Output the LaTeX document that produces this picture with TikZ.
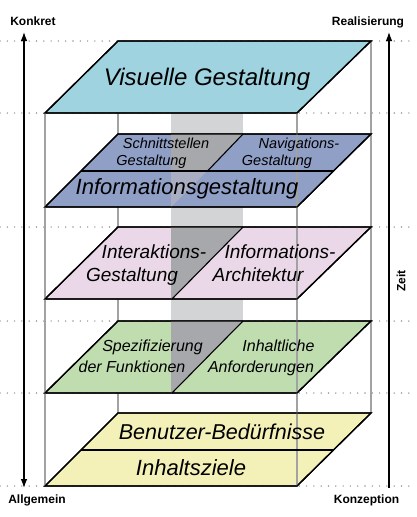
\documentclass[tikz,border=0pt]{standalone}
\usepackage{fontspec}
\setmainfont{Liberation Sans}
\newfontfamily\layfont{Liberation Sans}[ItalicFont=* Italic]
\usetikzlibrary{arrows.meta}
\definecolor{cviz}{HTML}{9FD3DF}
\definecolor{cinf}{HTML}{8F9FC6}
\definecolor{cpink}{HTML}{EAD7E7}
\definecolor{cgreen}{HTML}{C0DDB0}
\definecolor{cyell}{HTML}{F3F0B8}
\definecolor{shaftlight}{HTML}{D3D4D6}
\definecolor{shaftdark}{HTML}{A7A8AB}
\definecolor{shaftmid}{HTML}{A9AEC2}
\definecolor{edgegrey}{HTML}{A2A2A2}
\definecolor{dotgrey}{HTML}{9A9A9A}
\begin{document}
\begin{tikzpicture}[x=1pt,y=-1pt,
  layer/.style={draw=black,line width=1.3pt,line join=miter},
  divline/.style={draw=black,line width=1.1pt},
  vedge/.style={draw=edgegrey,line width=1.2pt},
  dotline/.style={draw=dotgrey,line width=1.6pt,line cap=round,dash pattern=on 0pt off 7.3pt},
  axis/.style={draw=black,line width=1.1pt},
  tip/.style={Latex[length=9pt,width=6.5pt]},
  lab/.style={font=\bfseries\fontsize{12}{14}\selectfont,inner sep=0pt,anchor=base},
  lay/.style={font=\layfont\itshape\fontsize{#1}{#1}\selectfont,inner sep=0pt,anchor=base},
]
\useasboundingbox (0,0) rectangle (416,517);

% dotted level lines
\foreach \yy/\nm in {41/a,113/b,227/c,321/d,393/e,486/f}{
  \coordinate (dl\nm) at (0,\yy);
  \coordinate (dr\nm) at (416,\yy);
  \draw[dotline] (dl\nm) -- (dr\nm);
}

% back vertical edges
\coordinate (bl1) at (118,113); \coordinate (bl2) at (118,413);
\coordinate (br1) at (371,41);  \coordinate (br2) at (371,413);
\draw[vedge] (bl1) -- (bl2);
\draw[vedge] (br1) -- (br2);

% light shaft
\fill[shaftlight] (171,113) rectangle (243,321);

% layers
\path[layer,fill=cviz]   (45,113) -- (297,113) -- (371,41)  -- (118,41)  -- cycle;
\path[layer,fill=cinf]   (45,207) -- (297,207) -- (371,134) -- (118,134) -- cycle;
\path[layer,fill=cpink]  (45,299) -- (297,299) -- (371,227) -- (118,227) -- cycle;
\path[layer,fill=cgreen] (45,393) -- (297,393) -- (371,321) -- (118,321) -- cycle;
\path[layer,fill=cyell]  (45,486) -- (297,486) -- (371,413) -- (118,413) -- cycle;

% shaft seen inside layers
\fill[shaftdark] (171,134) -- (243,134) -- (207,171) -- (171,171) -- cycle;
\fill[shaftmid]  (171,171) -- (207,171) -- (171,207) -- cycle;
\fill[shaftdark] (171,227) -- (243,227) -- (171.5,299) -- (171,299) -- cycle;
\fill[shaftdark] (171,321) -- (243,321) -- (171.5,393) -- (171,393) -- cycle;

% front vertical edges
\coordinate (fl1) at (45,113); \coordinate (fl2) at (45,486);
\coordinate (fr1) at (297,113); \coordinate (fr2) at (297,486);
\draw[vedge] (fl1) -- (fl2);
\draw[vedge] (fr1) -- (fr2);

% re-stroke layer outlines
\path[layer] (45,113) -- (297,113) -- (371,41)  -- (118,41)  -- cycle;
\path[layer] (45,207) -- (297,207) -- (371,134) -- (118,134) -- cycle;
\path[layer] (45,299) -- (297,299) -- (371,227) -- (118,227) -- cycle;
\path[layer] (45,393) -- (297,393) -- (371,321) -- (118,321) -- cycle;
\path[layer] (45,486) -- (297,486) -- (371,413) -- (118,413) -- cycle;

% dividers
\draw[divline] (81,171) -- (334,171);
\draw[divline] (243,134) -- (207.5,171);
\draw[divline] (243,227) -- (172,299);
\draw[divline] (243,321) -- (172,393);
\draw[divline] (81,450) -- (334,450);

% layer texts
\node[lay=24] (t1) at (207,85) {Visuelle Gestaltung};
\node[lay=14.5] (t2a) at (166,148) {Schnittstellen};
\node[lay=14.5] (t2b) at (151.5,165) {Gestaltung};
\node[lay=14.5] (t2c) at (299,148) {Navigations-};
\node[lay=14.5] (t2d) at (277,165) {Gestaltung};
\node[lay=22] (t2e) at (187,194) {Informationsgestaltung};
\node[lay=19] (t3a) at (154,258) {Interaktions-};
\node[lay=19] (t3b) at (132,281) {Gestaltung};
\node[lay=19] (t3c) at (280,258) {Informations-};
\node[lay=19] (t3d) at (258,281) {Architektur};
\node[lay=16] (t4a) at (152.5,351) {Spezifizierung};
\node[lay=16] (t4b) at (132,372) {der Funktionen};
\node[lay=16] (t4c) at (278.5,351) {Inhaltliche};
\node[lay=16] (t4d) at (261,372) {Anforderungen};
\node[lay=21.5] (t5a) at (222,439) {Benutzer-Bedürfnisse};
\node[lay=22] (t5b) at (191,475) {Inhaltsziele};

% axes
\coordinate (lt) at (24,32); \coordinate (lb) at (24,488);
\coordinate (rt) at (389,32); \coordinate (rb) at (389,488);
\draw[axis,{Latex[length=9pt,width=6.5pt]}-{Latex[length=9pt,width=6.5pt]}] (lb) -- (lt);
\draw[axis,-{Latex[length=9pt,width=6.5pt]}] (rb) -- (rt);

% labels
\node[lab] (k) at (33,25) {Konkret};
\node[lab] (r) at (368,25) {Realisierung};
\node[lab] (a) at (37,503) {Allgemein};
\node[lab] (c) at (366.5,503) {Konzeption};
\node[lab,rotate=90,anchor=center] (z) at (401,281) {Zeit};
\end{tikzpicture}
\end{document}
